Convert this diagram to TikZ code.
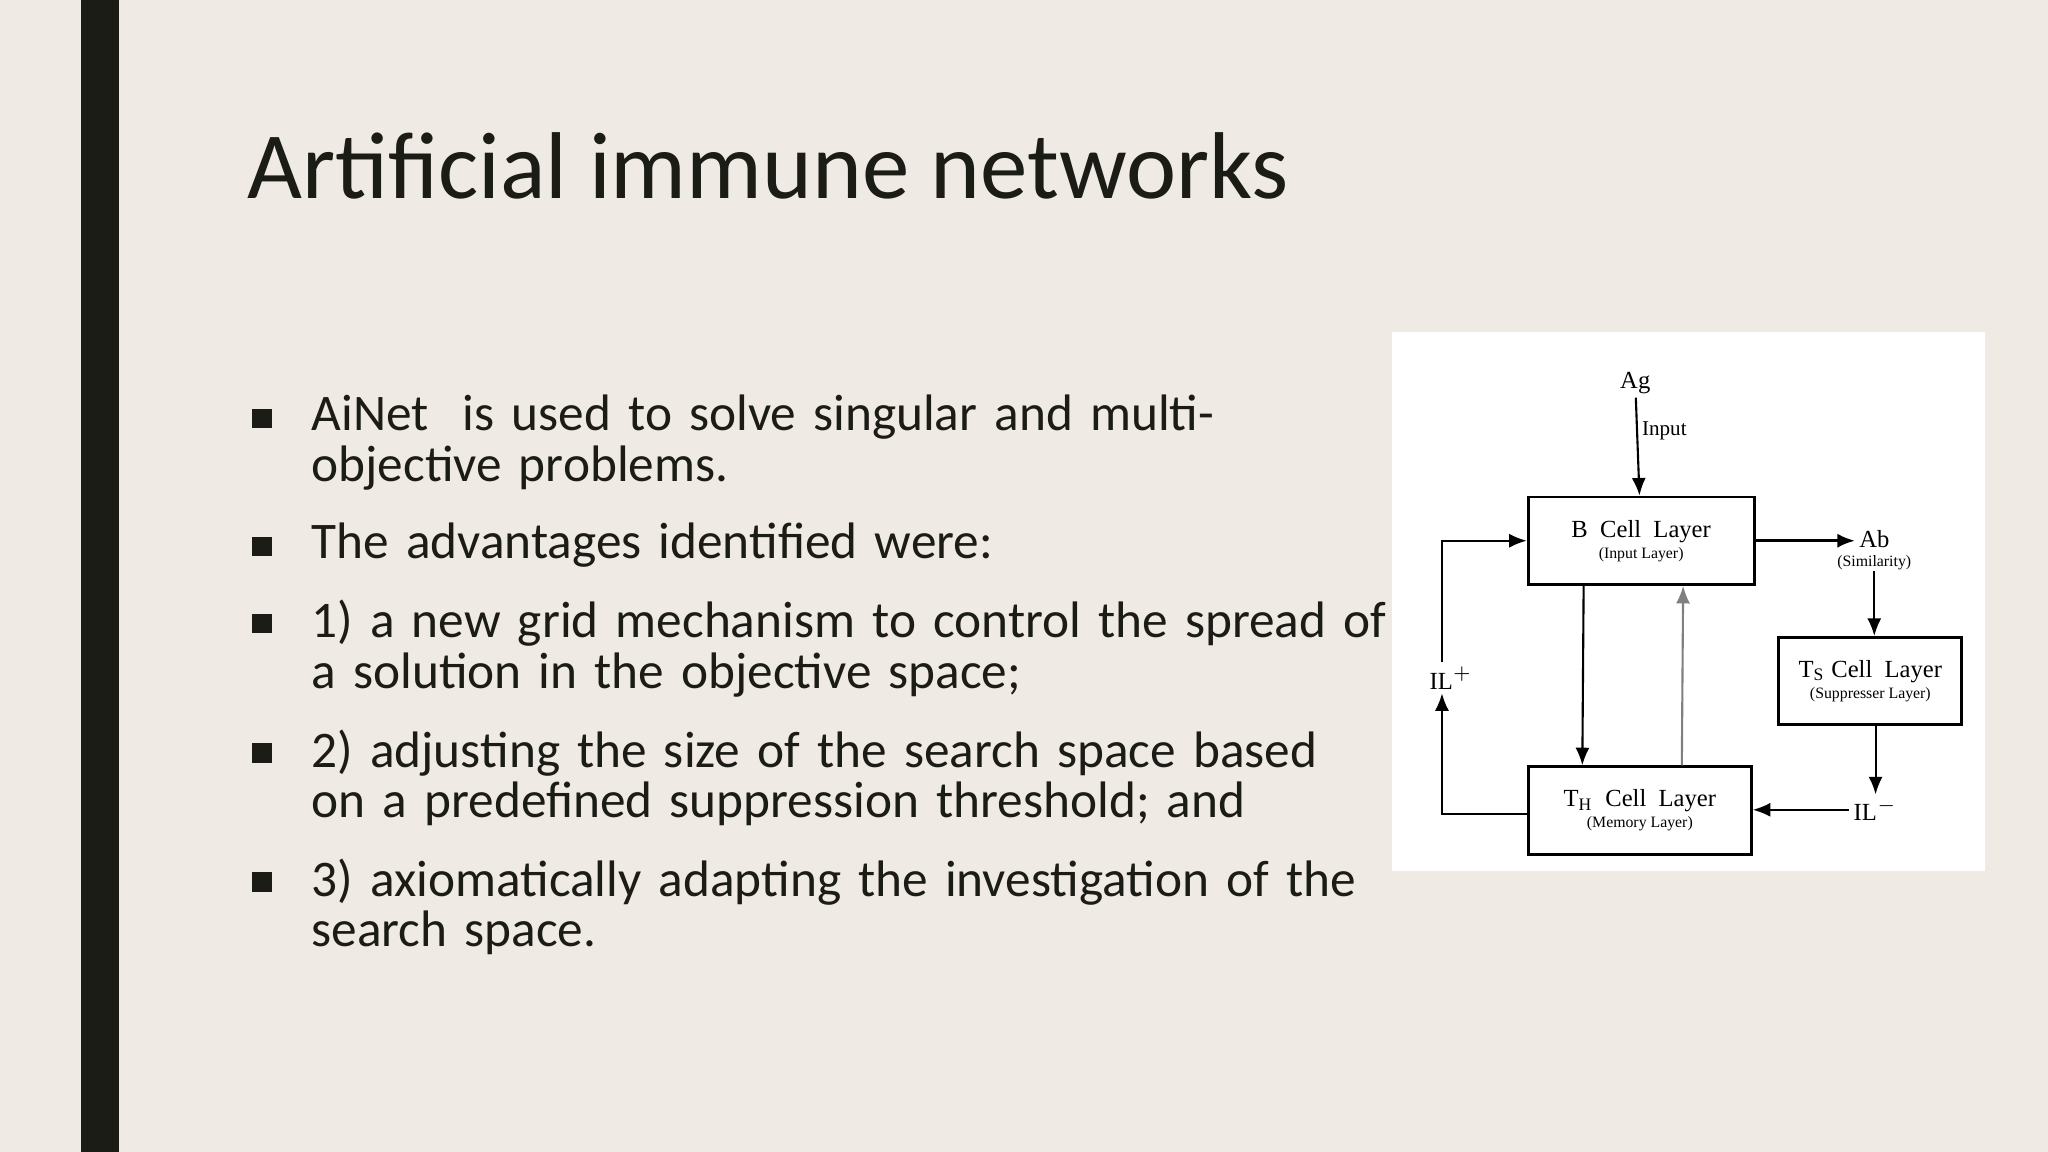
\documentclass[tikz,border=0pt]{standalone}
\usepackage{fontspec}
\setmainfont{Carlito}
\newfontfamily\figfont{Liberation Serif}
\usetikzlibrary{arrows.meta}
\tikzset{>={Latex[length=5,width=4]}}
\definecolor{slidebg}{HTML}{EFEBE4}
\definecolor{slideink}{HTML}{1C1C16}

\begin{document}
\begin{tikzpicture}[x=0.01306cm,y=-0.01306cm,
    layer/.style={draw,thick,minimum width=#1,minimum height=0.875cm,inner sep=1pt,align=center,font=\figfont\fontsize{7}{7}\selectfont},
    sub/.style={font=\figfont\fontsize{4.5}{5}\selectfont},
    flow/.style={->,semithick},
    bullet/.style={anchor=north west,text width=10.75cm,align=left,inner sep=0pt,font=\fontsize{14.6}{14.4}\selectfont,text=slideink}]
    \useasboundingbox (0,0) rectangle (1568,882);
    \fill[slidebg] (0,0) rectangle (1568,882);
    \fill[slideink] (62,0) rectangle (91,882);

    \node[anchor=base west,inner sep=0pt,text=slideink,font=\fontsize{27}{27}\selectfont] (title) at (189,152) {Artificial immune networks};

    % bullets
    \foreach \y/\txt in {302/{AiNet\ \ is used to solve singular and multi-objective problems.},
        400/{The advantages identified were:},
        459/{1) a new grid mechanism to control the spread of a solution in the objective space;},
        558/{2) adjusting the size of the search space based on a predefined suppression threshold; and},
        657/{3) axiomatically adapting the investigation of the search space.}}{
      \fill[slideink] (193,\y+11) rectangle (208,\y+26);
      \node[bullet] at (238,\y) {\txt};
    }

    % figure
    \fill[white] (1066,254) rectangle (1520,667);
    \node[layer=2.26cm] (B) at (1256.5,414) {B\ \ Cell\ \ Layer\\[-1pt]{\fontsize{4.5}{5}\selectfont(Input Layer)}};
    \node[layer=1.83cm] (TS) at (1432,521.5) {T\textsubscript{S} Cell\ \ Layer\\[-1pt]{\fontsize{4.5}{5}\selectfont(Suppresser Layer)}};
    \node[layer=2.23cm] (TH) at (1255.5,620.5) {T\textsubscript{H}\ \ Cell\ \ Layer\\[-1pt]{\fontsize{4.5}{5}\selectfont(Memory Layer)}};

    \node[font=\figfont\fontsize{7}{7}\selectfont,inner sep=1pt] (Ag) at (1252,293) {Ag};
    \node[font=\figfont\fontsize{6}{6}\selectfont,anchor=west,inner sep=1pt] (In) at (1254,330) {Input};
    \node[font=\figfont\fontsize{7}{7}\selectfont,inner sep=1pt] (Ab) at (1435,413) {Ab};
    \node[sub,inner sep=0pt] (Sim) at (1435,431) {(Similarity)};
    \node[font=\figfont\fontsize{7}{7}\selectfont,inner sep=1pt] (ILp) at (1111,519) {IL$^{+}$};
    \node[font=\figfont\fontsize{7}{7}\selectfont,inner sep=1pt] (ILm) at (1436,620) {IL$^{-}$};
    \coordinate (L) at (1104,623);

    \draw[flow] (Ag) -- (B);
    \draw[flow,thick] (B) -- (Ab.west |- B.east);
    \draw[flow] (Sim) -- (Sim |- TS.north);
    \draw[flow] (TS.south -| ILm) -- (ILm);
    \draw[flow] (ILm) -- (TH.east |- ILm);
    \draw[flow] ([xshift=-0.575cm]B.south) -- ([xshift=-0.575cm]TH.north);
    \draw[flow,gray] ([xshift=0.42cm]TH.north) -- ([xshift=0.42cm]B.south);
    \draw[flow] (TH.west |- L) -- (L) -- (ILp.south -| L);
    \draw[flow] (ILp.north -| L) -- (L |- B.west) -- (B.west);
\end{tikzpicture}
\end{document}
